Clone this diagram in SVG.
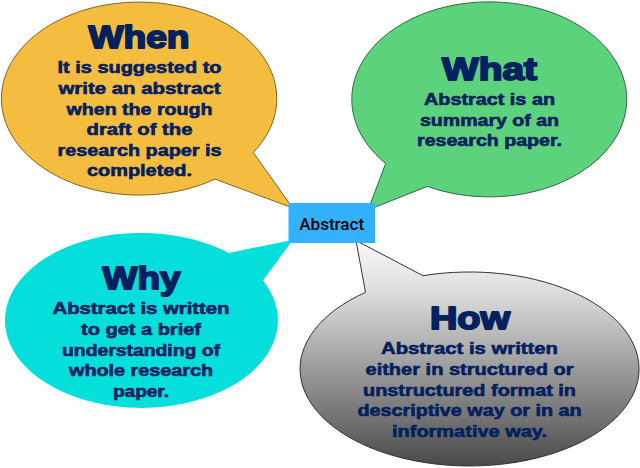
<svg xmlns="http://www.w3.org/2000/svg" width="640" height="468" viewBox="0 0 640 468">
<style>
text{text-anchor:middle;fill:#03205f;font-family:"Liberation Sans",Arial,sans-serif;font-weight:700;stroke:#03205f;stroke-linejoin:round}
.h{font-size:32px;stroke-width:1.9px}
.b{font-size:16px;stroke-width:.6px}
.c{fill:#000;stroke:none;font-size:16px;font-family:"Roboto",sans-serif;font-weight:500}
</style>
<defs><linearGradient id="g" x1="0" y1="0" x2="0" y2="1"><stop offset="0" stop-color="#fafafa"/><stop offset=".22" stop-color="#dedede"/><stop offset="1" stop-color="#4a4a4a"/></linearGradient></defs>
<rect width="640" height="468" fill="#fff"/>
<g id="connectors"></g>
<g id="when">
<path d="M253.3 152.5A137.7 96.5 0 1 0 215 179.1L292.7 208Z" fill="#f4bd40" stroke="#7f6420" stroke-width="1"/>
<text class="h" x="139" y="48" textLength="101" lengthAdjust="spacingAndGlyphs">When</text>
<text class="b" x="139.5" y="73" textLength="164" lengthAdjust="spacingAndGlyphs">It is suggested to</text>
<text class="b" x="139.5" y="94" textLength="162" lengthAdjust="spacingAndGlyphs">write an abstract</text>
<text class="b" x="139.5" y="115" textLength="146" lengthAdjust="spacingAndGlyphs">when the rough</text>
<text class="b" x="139.5" y="135" textLength="106" lengthAdjust="spacingAndGlyphs">draft of the</text>
<text class="b" x="139.5" y="156" textLength="164" lengthAdjust="spacingAndGlyphs">research paper is</text>
<text class="b" x="139.5" y="176" textLength="105" lengthAdjust="spacingAndGlyphs">completed.</text>
</g>
<g id="what">
<path d="M385.7 163.5A137.5 97.5 0 1 1 427.3 186.4L368 210Z" fill="#5dd27c" stroke="#2f6b3f" stroke-width="1"/>
<text class="h" x="489.5" y="80" textLength="95" lengthAdjust="spacingAndGlyphs">What</text>
<text class="b" x="489.5" y="105" textLength="131" lengthAdjust="spacingAndGlyphs">Abstract is an</text>
<text class="b" x="489.5" y="125.5" textLength="139" lengthAdjust="spacingAndGlyphs">summary of an</text>
<text class="b" x="489.5" y="146" textLength="145" lengthAdjust="spacingAndGlyphs">research paper.</text>
</g>
<g id="why">
<path d="M228.3 252.9A136.5 87.5 0 1 0 263 280.6L292.7 240Z" fill="#05dfdc"/>
<text class="h" x="141.5" y="289" textLength="78" lengthAdjust="spacingAndGlyphs">Why</text>
<text class="b" x="141" y="314" textLength="177" lengthAdjust="spacingAndGlyphs">Abstract is written</text>
<text class="b" x="141" y="335" textLength="120" lengthAdjust="spacingAndGlyphs">to get a brief</text>
<text class="b" x="141" y="356" textLength="158" lengthAdjust="spacingAndGlyphs">understanding of</text>
<text class="b" x="141" y="376" textLength="144" lengthAdjust="spacingAndGlyphs">whole research</text>
<text class="b" x="141" y="397" textLength="56" lengthAdjust="spacingAndGlyphs">paper.</text>
</g>
<g id="how">
<path d="M365.5 292.4A169.5 97 0 1 0 423 275.7L356 240.5Z" fill="url(#g)" stroke="#333" stroke-width="1"/>
<text class="h" x="470" y="329" textLength="80" lengthAdjust="spacingAndGlyphs">How</text>
<text class="b" x="469.5" y="354" textLength="177" lengthAdjust="spacingAndGlyphs">Abstract is written</text>
<text class="b" x="469.5" y="375" textLength="208" lengthAdjust="spacingAndGlyphs">either in structured or</text>
<text class="b" x="469.5" y="396" textLength="213" lengthAdjust="spacingAndGlyphs">unstructured format in</text>
<text class="b" x="469.5" y="416" textLength="224" lengthAdjust="spacingAndGlyphs">descriptive way or in an</text>
<text class="b" x="469.5" y="437" textLength="155" lengthAdjust="spacingAndGlyphs">informative way.</text>
</g>
<g id="abstract">
<rect x="288.5" y="203" width="86.5" height="40" fill="#33b1ff"/>
<text class="c" x="331.7" y="230" textLength="65" lengthAdjust="spacingAndGlyphs">Abstract</text>
</g>
</svg>
